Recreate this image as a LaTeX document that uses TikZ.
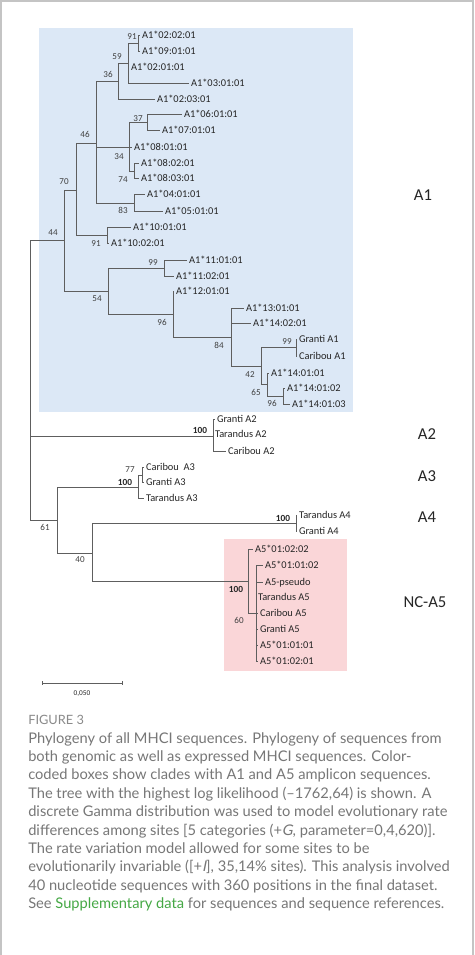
\documentclass[tikz,border=0pt]{standalone}
\usepackage{fontspec}
\setmainfont{Carlito}
\newfontfamily\capfont{Lato}
\newfontfamily\capslant{Lato}[FakeSlant=0.2]
\definecolor{bluebox}{HTML}{DCE8F6}
\definecolor{pinkbox}{HTML}{FAD6D8}
\definecolor{branchgray}{HTML}{5E5E5E}
\definecolor{leafcol}{HTML}{262626}
\definecolor{bscol}{HTML}{404040}
\definecolor{capgray}{HTML}{777777}
\definecolor{headgray}{HTML}{8A8A8A}
\definecolor{suppgreen}{HTML}{45A845}
\definecolor{framegray}{HTML}{C4C4C4}
\begin{document}
\begin{tikzpicture}[x=0.75pt,y=-0.75pt,
  br/.style={draw=branchgray,line width=0.7pt},
  leaf/.style={anchor=west,inner sep=0pt,outer sep=1.5pt,font=\fontsize{7.8}{8}\selectfont,text=leafcol,text height=5pt,text depth=0pt},
  bs/.style={inner sep=0pt,font=\fontsize{6.8}{7}\selectfont,text=bscol,text height=4.4pt,text depth=0pt},
  bsb/.style={inner sep=0pt,font=\fontsize{7}{7}\selectfont\bfseries,text=leafcol,text height=4.5pt,text depth=0pt},
  clade/.style={inner sep=0pt,font=\fontsize{12.5}{14}\selectfont,text=leafcol,text height=8pt,text depth=0pt},
  capline/.style={anchor=base west,inner sep=0pt,font=\capfont\fontsize{11}{12}\selectfont,text=capgray}
]
\useasboundingbox (0,0) rectangle (474,955);
\fill[white] (0,0) rectangle (474,955);
\draw[framegray,line width=1.5pt] (1,955) -- (1,1) -- (473,1) -- (473,955);
% clade boxes
\fill[bluebox] (39,28) rectangle (353,412);
\fill[pinkbox] (224,539) rectangle (347,671);
% internal nodes
\coordinate (R) at (30,436);
\coordinate (n44) at (64,240);
\coordinate (n70) at (76,190);
\coordinate (n46) at (96,143);
\coordinate (n36) at (118,81);
\coordinate (n59) at (128,63);
\coordinate (n91a) at (138,43);
\coordinate (n34) at (129,147);
\coordinate (n37) at (147,122);
\coordinate (n74) at (134,171);
\coordinate (n83) at (134,203);
\coordinate (n91b) at (107,235);
\coordinate (n54) at (108,291);
\coordinate (n99a) at (164,268);
\coordinate (n96a) at (173,314);
\coordinate (n84) at (231,337);
\coordinate (n42) at (261,366);
\coordinate (n99b) at (296,347);
\coordinate (n65) at (267,384);
\coordinate (n96b) at (283,396);
\coordinate (nA2) at (213,436);
\coordinate (n61) at (57,520);
\coordinate (nA3) at (138,487);
\coordinate (n77) at (142,475);
\coordinate (n40) at (92,553);
\coordinate (nA4) at (296,523);
\coordinate (nA5) at (248,581);
\coordinate (n60) at (256,613);
% leaves
\node[leaf] (L1) at (140,35) {A1*02:02:01};
\node[leaf] (L2) at (140,51) {A1*09:01:01};
\node[leaf] (L3) at (129,67) {A1*02:01:01};
\node[leaf] (L4) at (189,83) {A1*03:01:01};
\node[leaf] (L5) at (155,99) {A1*02:03:01};
\node[leaf] (L6) at (182,114) {A1*06:01:01};
\node[leaf] (L7) at (160,130) {A1*07:01:01};
\node[leaf] (L8) at (132,147) {A1*08:01:01};
\node[leaf] (L9) at (139,163) {A1*08:02:01};
\node[leaf] (L10) at (139,178) {A1*08:03:01};
\node[leaf] (L11) at (145,194) {A1*04:01:01};
\node[leaf] (L12) at (163,211) {A1*05:01:01};
\node[leaf] (L13) at (131,227) {A1*10:01:01};
\node[leaf] (L14) at (109,243) {A1*10:02:01};
\node[leaf] (L15) at (187,260) {A1*11:01:01};
\node[leaf] (L16) at (174,276) {A1*11:02:01};
\node[leaf] (L17) at (174,291) {A1*12:01:01};
\node[leaf] (L18) at (244,308) {A1*13:01:01};
\node[leaf] (L19) at (251,323) {A1*14:02:01};
\node[leaf] (L20) at (297,339) {Granti A1};
\node[leaf] (L21) at (297,356) {Caribou A1};
\node[leaf] (L22) at (269,373) {A1*14:01:01};
\node[leaf] (L23) at (285,388) {A1*14:01:02};
\node[leaf] (L24) at (290,404) {A1*14:01:03};
\node[leaf] (L25) at (215,419) {Granti A2};
\node[leaf] (L26) at (213,434) {Tarandus A2};
\node[leaf] (L27) at (226,451) {Caribou A2};
\node[leaf] (L28) at (144,467) {Caribou\ \ A3};
\node[leaf] (L29) at (144,482) {Granti A3};
\node[leaf] (L30) at (144,498) {Tarandus A3};
\node[leaf] (L31) at (297,515) {Tarandus A4};
\node[leaf] (L32) at (297,531) {Granti A4};
\node[leaf] (L33) at (253,549) {A5*01:02:02};
\node[leaf] (L34) at (263,565) {A5*01:01:02};
\node[leaf] (L35) at (263,582) {A5-pseudo};
\node[leaf] (L36) at (256,597) {Tarandus A5};
\node[leaf] (L37) at (258,613) {Caribou A5};
\node[leaf] (L38) at (258,629) {Granti A5};
\node[leaf] (L39) at (258,645) {A5*01:01:01};
\node[leaf] (L40) at (258,661) {A5*01:02:01};
% branches
\foreach \p/\c in {R/n44,R/nA2,R/n61,
  n44/n70,n44/n54,n70/n46,n70/n91b,
  n46/n36,n46/n34,n46/n83,n36/n59,n36/L5,n59/n91a,n59/L3,n59/L4,
  n91a/L1,n91a/L2,n34/n37,n34/L8,n34/n74,n37/L6,n37/L7,n74/L9,n74/L10,
  n83/L11,n83/L12,n91b/L13,n91b/L14,
  n54/n99a,n54/n96a,n99a/L15,n99a/L16,n96a/L17,n96a/n84,
  n84/L18,n84/L19,n84/n42,n42/n99b,n42/n65,n99b/L20,n99b/L21,
  n65/L22,n65/n96b,n96b/L23,n96b/L24,
  nA2/L25,nA2/L26,nA2/L27,
  n61/nA3,n61/n40,nA3/n77,nA3/L30,n77/L28,n77/L29,
  n40/nA4,n40/nA5,nA4/L31,nA4/L32,
  nA5/L33,nA5/n60,n60/L34,n60/L35,n60/L36,n60/L37,n60/L38,n60/L39,n60/L40}
  {\draw[br] (\p) |- (\c);}
% bootstrap values
\node[bs] (b1) at (132,37) {91};
\node[bs] (b2) at (117,57) {59};
\node[bs] (b3) at (108,75) {36};
\node[bs] (b4) at (138,119) {37};
\node[bs] (b5) at (119,157) {34};
\node[bs] (b6) at (123,180) {74};
\node[bs] (b7) at (123,211) {83};
\node[bs] (b8) at (85,135) {46};
\node[bs] (b9) at (64,182) {70};
\node[bs] (b10) at (96,244) {91};
\node[bs] (b11) at (53,233) {44};
\node[bs] (b12) at (153,263) {99};
\node[bs] (b13) at (97,299) {54};
\node[bs] (b14) at (162,323) {96};
\node[bs] (b15) at (219,346) {84};
\node[bs] (b16) at (250,375) {42};
\node[bs] (b17) at (287,342) {99};
\node[bs] (b18) at (256,393) {65};
\node[bs] (b19) at (272,404) {96};
\node[bsb] (b20) at (200,430) {100};
\node[bs] (b21) at (130,470) {77};
\node[bsb] (b22) at (125,482) {100};
\node[bs] (b23) at (45,528) {61};
\node[bs] (b24) at (80,560) {40};
\node[bsb] (b25) at (283,518) {100};
\node[bsb] (b26) at (236,589) {100};
\node[bs] (b27) at (239,621) {60};
% clade labels
\node[clade] (cA1) at (423,195) {A1};
\node[clade] (cA2) at (427,434) {A2};
\node[clade] (cA3) at (427,476) {A3};
\node[clade] (cA4) at (427,517) {A4};
\node[clade] (cA5) at (425,602) {NC-A5};
% scale bar
\coordinate (s1) at (42,683);
\coordinate (s2) at (122,683);
\draw[branchgray,line width=0.6pt] (s1) -- (s2);
\draw[branchgray,line width=0.6pt] ([yshift=1.2pt]s1) -- ([yshift=-1.2pt]s1);
\draw[branchgray,line width=0.6pt] ([yshift=1.2pt]s2) -- ([yshift=-1.2pt]s2);
\node[inner sep=0pt,font=\fontsize{5.5}{6}\selectfont,text=leafcol] (sl) at (82,694) {0,050};
% caption
\node[anchor=base west,inner sep=0pt,font=\capfont\fontsize{9.6}{10}\selectfont,text=headgray] (fig) at (28,724) {FIGURE 3};
\node[capline] (c1) at (28,743) {Phylogeny of all MHCI sequences. Phylogeny of sequences from};
\node[capline] (c2) at (28,761.4) {both genomic as well as expressed MHCI sequences. Color-};
\node[capline] (c3) at (28,779.8) {coded boxes show clades with A1 and A5 amplicon sequences.};
\node[capline] (c4) at (28,798.2) {The tree with the highest log likelihood (–1762,64) is shown. A};
\node[capline] (c5) at (28,816.6) {discrete Gamma distribution was used to model evolutionary rate};
\node[capline] (c6) at (28,835) {differences among sites [5 categories (+{\capslant G}, parameter=0,4,620)].};
\node[capline] (c7) at (28,853.4) {The rate variation model allowed for some sites to be};
\node[capline] (c8) at (28,871.8) {evolutionarily invariable ([+{\capslant I}], 35,14\% sites). This analysis involved};
\node[capline] (c9) at (28,890.2) {40 nucleotide sequences with 360 positions in the final dataset.};
\node[capline] (c10) at (28,908.6) {See \textcolor{suppgreen}{Supplementary data} for sequences and sequence references.};
\end{tikzpicture}
\end{document}
